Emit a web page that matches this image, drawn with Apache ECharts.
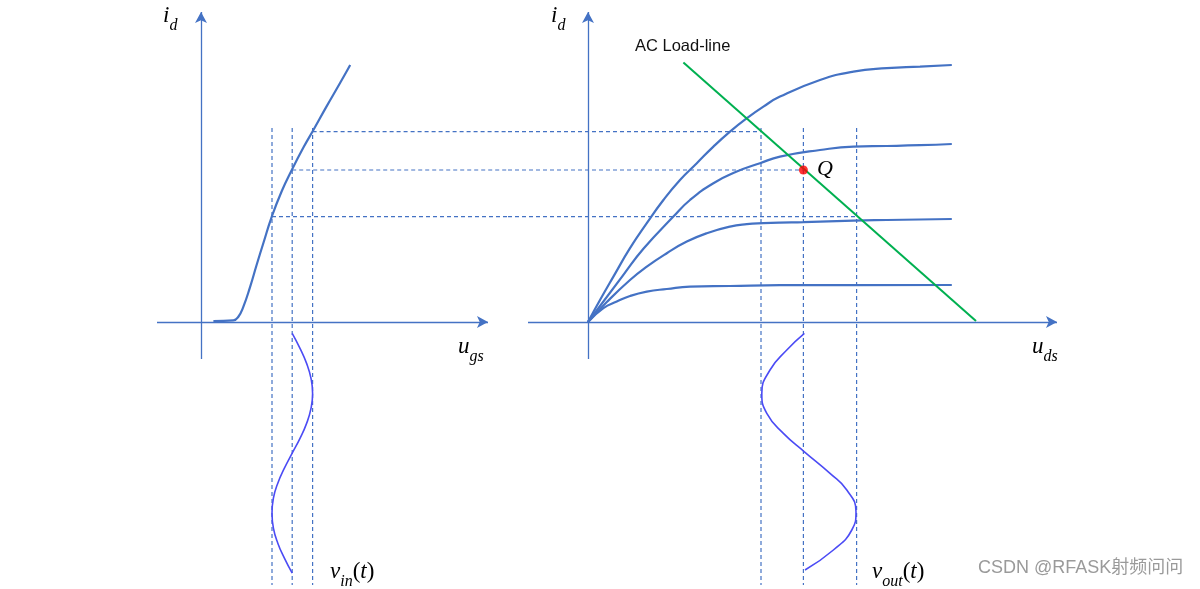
<!DOCTYPE html>
<html>
<head>
<meta charset="utf-8">
<script src="https://cdn.jsdelivr.net/npm/echarts@6/dist/echarts.min.js"></script>
<style>html,body{margin:0;padding:0;background:#fff;}#main{width:1200px;height:589px;}</style>
</head>
<body>
<div id="main"></div>
<script>
// ---------- data (u_gs / u_ds in V, i_d in mA; below the axes: time runs downward) ----------
// transfer characteristic i_d(u_gs)
const transferUgs = [0.31, 0.81, 0.93, 1.06, 1.23, 1.39, 1.56, 1.77, 2.02, 2.27, 2.56, 2.81, 3.14, 3.48, 3.73];
const transferId  = [0.05, 0.08, 0.25, 0.77, 1.77, 2.85, 3.95, 5.27, 6.55, 7.6, 8.72, 9.6, 10.78, 11.96, 12.85];

// output characteristics i_d(u_ds), four curves
const outUds1 = [0, 0.6, 1.27, 2.1, 2.94, 3.77, 4.6, 5.44, 6.27, 7.1, 7.94, 8.77, 9.6, 11.6, 13.27, 14.94, 16.6, 18.19];
const outId1  = [0, 1.1, 2.27, 3.69, 4.94, 6.1, 7.1, 7.94, 8.77, 9.52, 10.19, 10.77, 11.27, 12.1, 12.52, 12.69, 12.77, 12.85];
const outUds2 = [0, 1.77, 2.77, 4.27, 5.1, 6.27, 7.44, 8.6, 9.6, 11.6, 13.27, 14.94, 16.6, 18.19];
const outId2  = [0, 2.36, 3.66, 5.27, 6.1, 6.94, 7.52, 7.94, 8.27, 8.6, 8.77, 8.8, 8.84, 8.9];
const outUds3 = [0, 0.94, 2.1, 2.94, 3.94, 4.94, 5.94, 7.1, 7.94, 8.77, 9.6, 10.77, 13.27, 14.94, 18.19];
const outId3  = [0, 1.0, 2.1, 2.77, 3.44, 4.02, 4.44, 4.77, 4.89, 4.94, 4.97, 4.99, 5.07, 5.1, 5.15];
const outUds4 = [0, 0.77, 1.44, 2.1, 2.94, 3.94, 5.1, 7.1, 9.6, 13.27, 18.19];
const outId4  = [0, 0.69, 1.02, 1.3, 1.52, 1.65, 1.77, 1.8, 1.84, 1.84, 1.85];

// AC load line end points and Q point
const loadLineUds = [4.77, 19.4];
const loadLineId  = [12.97, 0.05];
const qUds = 10.77, qId = 7.6;

// swing levels: gate voltages, drain currents, drain voltages (low, Q, high current)
const swingUgs = [1.775, 2.28, 2.79];
const swingId  = [5.27, 7.6, 9.52];
const swingUds = [13.43, 10.77, 8.65];
const projTop = 9.7, projBottom = -13.15;

// input signal v_in(t): u_gs vs. time position (downward)
const vinUgs = [2.28, 2.475, 2.64, 2.75, 2.79, 2.75, 2.64, 2.475, 2.28, 2.085, 1.92, 1.81, 1.775, 1.81, 1.92, 2.085, 2.28];
const vinT   = [-0.57, -1.32, -2.07, -2.82, -3.57, -4.32, -5.07, -5.82, -6.56, -7.31, -8.06, -8.81, -9.56, -10.31, -11.06, -11.81, -12.56];
// output signal v_out(t)
const voutUds = [10.82, 9.94, 9.1, 8.69, 8.94, 9.77, 10.82, 12.1, 12.94, 13.4, 13.19, 12.27, 10.85];
const voutT   = [-0.57, -1.4, -2.4, -3.57, -4.57, -5.57, -6.49, -7.57, -8.4, -9.49, -10.4, -11.4, -12.4];

// axis extents
const leftAxisX = [-1.1, 7.175];
const rightAxisX = [-3, 23.45];
const axisY = [-1.85, 15.5];

// ---------- chart ----------
const BLUE = '#4472C4';
const zip = (a, b) => a.map((v, i) => [v, b[i]]);

const series = [];
function addLine(gi, data, style, extra) {
  series.push(Object.assign({
    type: 'line', xAxisIndex: gi, yAxisIndex: gi, data: data,
    showSymbol: false, symbol: 'none', silent: true, animation: false,
    lineStyle: style, z: 3
  }, extra || {}));
}

const dash = { color: BLUE, width: 1.2, type: [4, 3] };
// vertical projections
swingUgs.forEach(u => addLine(0, [[u, projTop], [u, projBottom]], dash, { z: 2 }));
swingUds.forEach(u => addLine(1, [[u, projTop], [u, projBottom]], dash, { z: 2 }));
// horizontal projections
swingId.forEach((id, i) => {
  addLine(0, [[swingUgs[i], id], [7.675, id]], dash, { z: 2 });
  addLine(1, [[-4, id], [swingUds[i], id]], dash, { z: 2 });
});

// axes with arrows
function addAxes(gi, xr) {
  series.push({
    type: 'line', xAxisIndex: gi, yAxisIndex: gi, data: [], silent: true, animation: false,
    markLine: {
      silent: true, animation: false, symbol: ['none', 'arrow'], symbolSize: [9, 11],
      label: { show: false },
      lineStyle: { color: BLUE, width: 1.3, type: 'solid' },
      emphasis: { disabled: true },
      data: [
        [{ coord: [xr[0], 0] }, { coord: [xr[1], 0] }],
        [{ coord: [0, axisY[0]] }, { coord: [0, axisY[1]] }]
      ]
    }
  });
}
addAxes(0, leftAxisX);
addAxes(1, rightAxisX);

const curve = { color: BLUE, width: 2.2 };
const smooth = { smooth: 0.5, smoothConstraint: false };
addLine(0, zip(transferUgs, transferId), curve, { smooth: 0.5 });
addLine(1, zip(outUds1, outId1), curve, smooth);
addLine(1, zip(outUds2, outId2), curve, smooth);
addLine(1, zip(outUds3, outId3), curve, smooth);
addLine(1, zip(outUds4, outId4), curve, smooth);
addLine(1, zip(loadLineUds, loadLineId), { color: '#00B050', width: 2 }, { z: 4 });

const sine = { color: '#4B4BF5', width: 1.6 };
addLine(0, zip(vinUgs, vinT), sine, smooth);
addLine(1, zip(voutUds, voutT), sine, smooth);

series.push({
  type: 'scatter', xAxisIndex: 1, yAxisIndex: 1, data: [[qUds, qId]],
  symbolSize: 9, itemStyle: { color: '#FF0000' }, silent: true, animation: false, z: 6
});

const mathFont = 'Liberation Serif';
const base = { fontFamily: mathFont, fontSize: 23, lineHeight: 30, verticalAlign: 'top', fill: '#000' };
const subStyle = { fontFamily: mathFont, fontStyle: 'italic', fontSize: 16, lineHeight: 20, verticalAlign: 'bottom', fill: '#000' };
const sub = (main, s, left, top) => ({
  type: 'text', left: left, top: top, silent: true,
  style: {
    text: '{a|' + main + '}{b|' + s + '}',
    rich: { a: Object.assign({ fontStyle: 'italic' }, base), b: subStyle }
  }
});
const func = (main, s, left, top) => ({
  type: 'text', left: left, top: top, silent: true,
  style: {
    text: '{c|' + main + '}{b|' + s + '}{a|(}{c|t}{a|)}',
    rich: {
      a: Object.assign({ fontStyle: 'normal' }, base),
      c: Object.assign({ fontStyle: 'italic' }, base),
      b: subStyle
    }
  }
});

const graphic = [
  sub('i', 'd', 163, 4),
  sub('i', 'd', 551, 4),
  sub('u', 'gs', 458, 335),
  sub('u', 'ds', 1032, 335),
  func('v', 'in', 330, 560),
  func('v', 'out', 872, 560),
  { type: 'text', left: 817, top: 158, silent: true,
    style: { text: 'Q', fontFamily: mathFont, fontStyle: 'italic', fontSize: 22, fill: '#000' } },
  { type: 'text', left: 635, top: 38, silent: true,
    style: { text: 'AC Load-line', fontFamily: 'Liberation Sans', fontSize: 16.5, fill: '#111' } },
  { type: 'text', left: 978, top: 559, silent: true,
    style: { text: 'CSDN @RFASK射频问问', fontFamily: 'Liberation Sans, Noto Sans CJK SC', fontSize: 18, fill: '#9a9a9a' } }
];

const chart = echarts.init(document.getElementById('main'), null, { renderer: 'canvas' });
chart.setOption({
  backgroundColor: '#ffffff',
  animation: false,
  grid: [
    { left: 141, top: 0, width: 367, height: 589 },
    { left: 508, top: 0, width: 600, height: 589 }
  ],
  xAxis: [
    { gridIndex: 0, type: 'value', min: -1.5, max: 7.675, show: false },
    { gridIndex: 1, type: 'value', min: -4, max: 26, show: false }
  ],
  yAxis: [
    { gridIndex: 0, type: 'value', min: -13.35, max: 16.1, show: false },
    { gridIndex: 1, type: 'value', min: -13.35, max: 16.1, show: false }
  ],
  series: series,
  graphic: graphic
});
</script>
</body>
</html>
